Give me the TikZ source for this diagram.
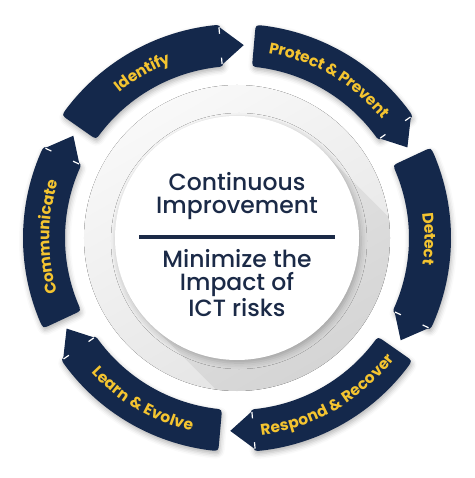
\documentclass[tikz,border=0pt]{standalone}
\usepackage{fontspec}
\usepackage{tikz}
\usetikzlibrary{decorations.text,shadows.blur}
\newfontfamily\poppins{Poppins}
\IfFontExistsTF{Poppins Medium}{\newfontfamily\poppinsmed{Poppins Medium}}{\newfontfamily\poppinsmed{Poppins}[FakeBold=0.6]}
\definecolor{navy}{HTML}{14284B}
\definecolor{gold}{HTML}{F4C430}
\definecolor{ink}{HTML}{1B2A47}
\newcommand{\bandfont}{\poppins\bfseries\fontsize{15.5}{15.5}\selectfont}
\tikzset{arclabel/.style={postaction={decorate,decoration={text along path,
      text={|\bandfont|#1},text align=center,raise=-5.5pt,text color=gold}}}}
\begin{document}
\begin{tikzpicture}[x=1pt,y=1pt]
    \tikzstyle{band}=[fill=navy,blur shadow={shadow xshift=1pt,shadow yshift=-3pt,shadow blur radius=5pt,shadow opacity=30}]
    \tikzstyle{slit}=[white,line width=1.2pt]
    \tikzstyle{maintext}=[text=ink,align=center,inner sep=0pt,font=\poppinsmed\fontsize{23.5}{23}\selectfont]
    \tikzstyle{divider}=[ink,line width=3.5pt]
    \useasboundingbox (-237,-240) rectangle (237,238);

    % plate and long shadow
    \fill[top color=gray!5,bottom color=gray!22,shading angle=30] (0,0) circle (153pt);
    \begin{scope}
        \clip (0,0) circle (153pt);
        \fill[black,opacity=0.06] (45:122pt) -- ++(-45:250pt) -- ++(225:244pt) -- (225:122pt) -- cycle;
    \end{scope}
    \fill[white,blur shadow={shadow xshift=2pt,shadow yshift=-3pt,shadow blur radius=6pt,shadow opacity=25}] (0,0) circle (122pt);

    % arrow bands, clockwise
    \def\Ro{214pt} \def\Ri{172pt} \def\Rm{193pt}
    \foreach \k in {0,...,5}{
        \pgfmathsetmacro\s{145-60*\k}
        \pgfmathsetmacro\t{88-60*\k}
        \pgfmathsetmacro\h{\t+6.5}
        \pgfmathsetmacro\sa{\s-2.2}
        \pgfmathsetmacro\sb{\s-2.6}
        \pgfmathsetmacro\ha{\h+2.2}
        \pgfmathsetmacro\hb{\h+2.6}
        \fill[band] (\sa:\Ro) arc[start angle=\sa,end angle=\ha,radius=\Ro]
            .. controls (\h:\Ro) .. (\h:\Ro-8pt) -- (\h:\Ri+8pt)
            .. controls (\h:\Ri) .. (\hb:\Ri)
            arc[start angle=\hb,end angle=\sb,radius=\Ri]
            .. controls (\s:\Ri) .. (\s:\Ri+8pt) -- (\s:\Ro-8pt)
            .. controls (\s:\Ro) .. (\sa:\Ro) -- cycle;
        \fill[navy] (\h+0.4:\Ro-2pt) -- (\t:\Rm) -- (\h+0.4:\Ri+2pt) -- cycle;
        \draw[slit] (\h+0.4:\Ro-2.5pt) -- (\h+0.4:\Ro-9pt);
        \draw[slit] (\h+0.4:\Ri+2.5pt) -- (\h+0.4:\Ri+9pt);
    }

    % labels on the bands
    \path[arclabel={Identify}] (145:\Rm) arc[start angle=145,end angle=94.5,radius=\Rm];
    \path[arclabel={Protect {\&} Prevent}] (85:\Rm) arc[start angle=85,end angle=34.5,radius=\Rm];
    \path[arclabel={Detect}] (25:\Rm) arc[start angle=25,end angle=-25.5,radius=\Rm];
    \path[arclabel={Respond {\&} Recover}] (-85.5:\Rm) arc[start angle=-85.5,end angle=-35,radius=\Rm];
    \path[arclabel={Learn {\&} Evolve}] (-145.5:\Rm) arc[start angle=-145.5,end angle=-95,radius=\Rm];
    \path[arclabel={Communicate}] (-155:\Rm) arc[start angle=-155,end angle=-205.5,radius=\Rm];

    % centre
    \node[maintext] (goal) at (0,42) {Continuous\\Improvement};
    \node[maintext] (aim) at (0,-45) {Minimize the\\Impact of\\ICT risks};
    \coordinate (divL) at (-98,1);
    \coordinate (divR) at (98,1);
    \draw[divider] (divL) -- (divR);
\end{tikzpicture}
\end{document}
